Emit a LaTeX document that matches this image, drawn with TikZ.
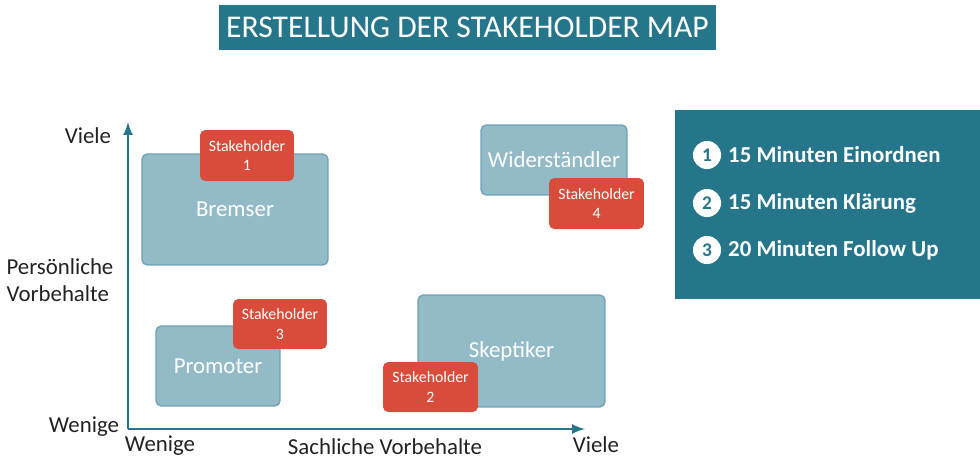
\documentclass[tikz,border=0pt]{standalone}
\usepackage{fontspec}
\setmainfont{Carlito}
\definecolor{mapteal}{HTML}{25768A}
\definecolor{lblue}{HTML}{93BAC7}
\definecolor{lblueedge}{HTML}{6FA3B5}
\definecolor{shred}{HTML}{D94B3B}
\definecolor{txt}{HTML}{222222}
\tikzset{
  group/.style={draw=lblueedge, fill=lblue, rounded corners=3pt, line width=0.8pt, text=white, font=\fontsize{13}{15}\selectfont},
  holder/.style={fill=shred, rounded corners=3pt, text=white, align=center, font=\fontsize{9}{11}\selectfont},
  axislabel/.style={text=txt, font=\fontsize{13}{15}\selectfont, align=left},
  stepnum/.style={circle, fill=white, text=mapteal, inner sep=0pt, minimum size=16pt, font=\bfseries\fontsize{11}{12}\selectfont},
  steptext/.style={text=white, anchor=west, font=\bfseries\fontsize{13}{15}\selectfont}
}
\begin{document}
\begin{tikzpicture}[x=0.02cm, y=-0.02cm, >=latex]
\useasboundingbox (0,0) rectangle (980,474);

%Titel
\node[fill=mapteal, text=white, minimum width=9.94cm, minimum height=0.9cm, font=\fontsize{18}{20}\selectfont] (title) at (467.5,27.5) {ERSTELLUNG DER STAKEHOLDER MAP};

%Achsen
\coordinate (origin) at (128,429);
\coordinate (ytop) at (128,122);
\coordinate (xend) at (585,429);
\draw[->, mapteal, line width=1.5pt] (origin) -- (ytop);
\draw[->, mapteal, line width=1.5pt] (origin) -- (xend);
\node[axislabel] (yhigh) at (88,136) {Viele};
\node[axislabel] (ylabel) at (60,280) {Persönliche\\Vorbehalte};
\node[axislabel] (ylow) at (84,427) {Wenige};
\node[axislabel] (xlow) at (160,446) {Wenige};
\node[axislabel] (xlabel) at (385,447) {Sachliche Vorbehalte};
\node[axislabel] (xhigh) at (596,445) {Viele};

%Gruppen
\node[group, minimum width=3.72cm, minimum height=2.22cm] (bremser) at (235,209.5) {Bremser};
\node[group, minimum width=2.92cm, minimum height=1.4cm] (widerstand) at (554,160) {Widerständler};
\node[group, minimum width=2.48cm, minimum height=1.6cm] (promoter) at (218,366) {Promoter};
\node[group, minimum width=3.74cm, minimum height=2.24cm] (skeptiker) at (511.5,351) {Skeptiker};

%Stakeholder
\node[holder, minimum width=1.88cm, minimum height=1.02cm] (sh1) at (247,155.5) {Stakeholder\\1};
\node[holder, minimum width=1.9cm, minimum height=1.02cm] (sh4) at (596.5,203.5) {Stakeholder\\4};
\node[holder, minimum width=1.88cm, minimum height=1.0cm] (sh3) at (280,324) {Stakeholder\\3};
\node[holder, minimum width=1.9cm, minimum height=1.0cm] (sh2) at (430.5,387) {Stakeholder\\2};

%Ablauf
\node[fill=mapteal, minimum width=6.1cm, minimum height=3.78cm] (panel) at (827.5,204.5) {};
\foreach \n/\y/\t in {1/155/15 Minuten Einordnen, 2/203/15 Minuten Klärung, 3/250/20 Minuten Follow Up} {
  \node[stepnum] (step\n) at (707,\y) {\n};
  \node[steptext] (steptext\n) at (722,\y) {\t};
}
\end{tikzpicture}
\end{document}
